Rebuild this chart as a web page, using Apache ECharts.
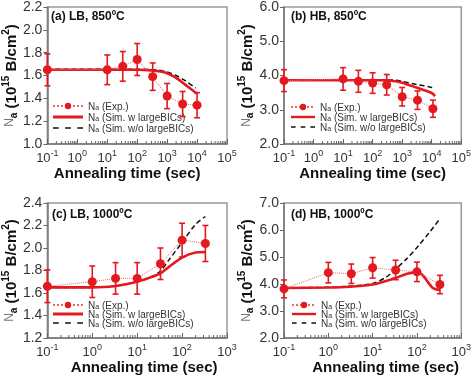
<!DOCTYPE html>
<html><head><meta charset="utf-8">
<script src="https://cdn.jsdelivr.net/npm/echarts@6/dist/echarts.min.js"></script>
<style>html,body{margin:0;padding:0;background:#fff}#c{width:474px;height:381px}</style>
</head><body><div id="c"></div>
<script>
// ---------- data ----------
const aTime = [0.1, 10, 33, 100, 330, 1000, 3300, 10000];
const aExp  = [1.65, 1.65, 1.68, 1.74, 1.59, 1.42, 1.35, 1.34];
const aErr  = [0.14, 0.13, 0.13, 0.14, 0.12, 0.11, 0.11, 0.11];
const aSimWT = [0.1, 1, 10, 100, 300, 600, 1000, 2000, 4000, 10000];
const aSimW  = [1.65, 1.65, 1.65, 1.65, 1.645, 1.635, 1.62, 1.58, 1.52, 1.44];
const aSimOT = [0.1, 1, 10, 100, 400, 1000, 2000, 4000, 9000];
const aSimO  = [1.655, 1.655, 1.655, 1.655, 1.65, 1.63, 1.60, 1.555, 1.49];

const bTime = [0.1, 10, 33, 100, 300, 1000, 3300, 11000];
const bExp  = [3.85, 3.90, 3.83, 3.78, 3.73, 3.38, 3.28, 3.03];
const bErr  = [0.32, 0.33, 0.32, 0.30, 0.30, 0.27, 0.27, 0.25];
const bSimWT = [0.1, 1, 10, 100, 300, 600, 1000, 3000, 10000, 13000];
const bSimW  = [3.86, 3.86, 3.86, 3.86, 3.86, 3.83, 3.79, 3.65, 3.49, 3.40];
const bSimOT = [0.1, 1, 10, 100, 500, 1000, 3000, 10000, 13000];
const bSimO  = [3.87, 3.87, 3.87, 3.87, 3.87, 3.83, 3.74, 3.65, 3.60];

const cTime = [0.1, 1, 3.3, 10, 33, 100, 330];
const cExp  = [1.66, 1.70, 1.73, 1.73, 1.86, 2.07, 2.04];
const cErr  = [0.145, 0.14, 0.14, 0.14, 0.14, 0.15, 0.16];
const cSimWT = [0.1, 1, 3, 10, 20, 33, 50, 100, 200, 330];
const cSimW  = [1.65, 1.65, 1.66, 1.70, 1.74, 1.775, 1.83, 1.915, 1.96, 1.965];
const cSimOT = [0.1, 1, 3, 10, 20, 33, 50, 100, 200, 330];
const cSimO  = [1.65, 1.65, 1.66, 1.70, 1.74, 1.795, 1.89, 2.05, 2.21, 2.28];

const dTime = [0.1, 1, 3.3, 10, 33, 100, 330];
const dExp  = [3.82, 4.42, 4.38, 4.60, 4.52, 4.45, 3.98];
const dErr  = [0.33, 0.38, 0.36, 0.38, 0.36, 0.36, 0.34];
const dSimWT = [0.1, 1, 3, 10, 30, 60, 100, 130, 180, 230, 330];
const dSimW  = [3.85, 3.87, 3.90, 3.98, 4.20, 4.38, 4.44, 4.35, 4.05, 3.85, 3.78];
const dSimOT = [0.1, 1, 3, 10, 20, 33, 60, 100, 200, 330];
const dSimO  = [3.86, 3.88, 3.92, 4.02, 4.25, 4.55, 4.95, 5.35, 5.95, 6.42];

const titles = ['(a) LB, 850ºC', '(b) HB, 850ºC', '(c) LB, 1000ºC', '(d) HB, 1000ºC'];
const yMins = [1.0, 2.0, 1.2, 2.0];
const yMaxs = [2.2, 6.0, 2.4, 7.0];
const yInts = [0.2, 1.0, 0.2, 1.0];
const xMaxs = [1e5, 1e5, 1e3, 1e3];
const minorMult = [2, 3, 4, 5, 6, 7, 8, 9];
const legendNames = ['exp', 'simw', 'simwo'];
const legendTexts = {exp: ' (Exp.)', simw: ' (Sim. w largeBICs)', simwo: ' (Sim. w/o largeBICs)'};

// ---------- style ----------
const RED = '#e3191f';
const FONT = 'Liberation Sans, Arial, sans-serif';
const grids = [
  {left: 44, top: 5, width: 183, height: 139},
  {left: 284, top: 5, width: 186, height: 139},
  {left: 45, top: 203, width: 182, height: 135},
  {left: 284, top: 203, width: 186, height: 135}
];
const legendPos = [
  {left: 52, top: 102, itemGap: 1, itemWidth: 30},
  {left: 290, top: 103, itemGap: 0, itemWidth: 24},
  {left: 52, top: 301, itemGap: -1, itemWidth: 30},
  {left: 291, top: 301, itemGap: -1, itemWidth: 24}
];
const xNamePad = [[0, 20, 0, 0], [0, 0, 0, 0], [0, 0, 0, 14], [0, 0, 0, 26]];

const panels = [
  {t: aTime, e: aExp, r: aErr, wt: aSimWT, w: aSimW, ot: aSimOT, o: aSimO},
  {t: bTime, e: bExp, r: bErr, wt: bSimWT, w: bSimW, ot: bSimOT, o: bSimO},
  {t: cTime, e: cExp, r: cErr, wt: cSimWT, w: cSimW, ot: cSimOT, o: cSimO},
  {t: dTime, e: dExp, r: dErr, wt: dSimWT, w: dSimW, ot: dSimOT, o: dSimO}
];

function zip(a, b) { return a.map((v, i) => [v, b[i]]); }

function errRender(params, api) {
  const x = api.value(0), lo = api.value(1), hi = api.value(2);
  const p1 = api.coord([x, lo]), p2 = api.coord([x, hi]);
  const w = 3;
  const st = {stroke: RED, lineWidth: 1.6};
  return {type: 'group', children: [
    {type: 'line', shape: {x1: p1[0], y1: p1[1], x2: p2[0], y2: p2[1]}, style: st},
    {type: 'line', shape: {x1: p1[0] - w, y1: p1[1], x2: p1[0] + w, y2: p1[1]}, style: st},
    {type: 'line', shape: {x1: p2[0] - w, y1: p2[1], x2: p2[0] + w, y2: p2[1]}, style: st}
  ]};
}
function minorRender(params, api) {
  const p = api.coord([api.value(0), api.value(1)]);
  return {type: 'line', shape: {x1: p[0], y1: p[1], x2: p[0], y2: p[1] - 3},
    style: {stroke: '#666', lineWidth: 1}};
}

const option = {
  animation: false,
  backgroundColor: '#fff',
  textStyle: {fontFamily: FONT},
  grid: grids.map(g => Object.assign({show: true, borderColor: '#999', borderWidth: 1.5, containLabel: false}, g)),
  xAxis: [], yAxis: [], series: [], legend: [], graphic: []
};

const legendData = [
  {name: 'exp'},
  {name: 'simw', icon: 'path://M0,0h26v2.6h-26z', itemStyle: {color: RED}},
  {name: 'simwo', icon: 'path://M0,0h5v1.5h-5zM10.5,0h5v1.5h-5zM21,0h5v1.5h-5z', itemStyle: {color: '#111'}}
];

panels.forEach((p, i) => {
  option.xAxis.push({
    type: 'log', logBase: 10, gridIndex: i, min: 0.1, max: xMaxs[i],
    splitNumber: i < 2 ? 6 : 4,
    name: 'Annealing time (sec)', nameLocation: 'middle', nameGap: 22,
    nameTextStyle: {fontFamily: FONT, fontSize: 15, fontWeight: 'bold', color: '#111', padding: xNamePad[i], verticalAlign: 'top'},
    axisLine: {show: true, onZero: false, lineStyle: {color: '#777', width: 1.5}},
    axisTick: {show: true, inside: true, length: 5, lineStyle: {color: '#666'}},
    splitLine: {show: false},
    axisLabel: {
      margin: 5, color: '#333', showMinLabel: true, showMaxLabel: true,
      formatter: v => '{b|10}{s|' + Math.round(Math.log10(v)) + '}',
      rich: {
        b: {fontFamily: FONT, fontSize: 13, color: '#333', lineHeight: 16, verticalAlign: 'bottom'},
        s: {fontFamily: FONT, fontSize: 9, color: '#333', lineHeight: 9, verticalAlign: 'top'}
      }
    }
  });
  option.yAxis.push({
    type: 'value', gridIndex: i, min: yMins[i], max: yMaxs[i], interval: yInts[i],
    name: 'N{sub|a}{t| (10}{sup|15}{t| B/cm}{sup|2}{t|)}', nameLocation: 'middle', nameGap: 23, nameRotate: 90,
    nameTextStyle: {
      rich: {
        t: {fontFamily: FONT, fontSize: 15, fontWeight: 'bold', color: '#111', lineHeight: 18, verticalAlign: 'bottom'},
        sub: {fontFamily: FONT, fontSize: 10, fontWeight: 'bold', color: '#111', lineHeight: 8, verticalAlign: 'bottom'},
        sup: {fontFamily: FONT, fontSize: 10, fontWeight: 'bold', color: '#111', lineHeight: 10, verticalAlign: 'top'}
      }
    },
    axisLine: {show: true, lineStyle: {color: '#777', width: 1.5}},
    axisTick: {show: true, inside: false, length: 4, lineStyle: {color: '#666'}},
    splitLine: {show: false},
    axisLabel: {margin: 5, fontFamily: FONT, fontSize: 14, color: '#333', formatter: v => v.toFixed(1)}
  });
  option.series.push({
    name: 'simwo', type: 'line', xAxisIndex: i, yAxisIndex: i, data: zip(p.ot, p.o),
    smooth: 0.3, showSymbol: false, symbol: 'none', z: 3,
    lineStyle: {color: '#111', width: 1.5, type: [5, 3]}, itemStyle: {color: '#111'}
  });
  option.series.push({
    name: 'simw', type: 'line', xAxisIndex: i, yAxisIndex: i, data: zip(p.wt, p.w),
    smooth: 0.3, showSymbol: false, symbol: 'none', z: 4,
    lineStyle: {color: RED, width: 2.6}, itemStyle: {color: RED}
  });
  option.series.push({
    type: 'custom', xAxisIndex: i, yAxisIndex: i, renderItem: errRender, z: 5,
    encode: {x: 0, y: [1, 2]}, silent: true,
    data: p.t.map((t, k) => [t, p.e[k] - p.r[k], p.e[k] + p.r[k]])
  });
  option.series.push({
    name: 'exp', type: 'line', xAxisIndex: i, yAxisIndex: i, data: zip(p.t, p.e),
    symbol: 'circle', symbolSize: 9, z: 6,
    lineStyle: {color: '#ee6666', width: 1, type: 'dotted'}, itemStyle: {color: RED}
  });
  const minors = [];
  for (let e = -1; Math.pow(10, e) < xMaxs[i]; e++) {
    minorMult.forEach(m => minors.push([m * Math.pow(10, e), yMins[i]]));
  }
  option.series.push({
    type: 'custom', xAxisIndex: i, yAxisIndex: i, renderItem: minorRender, z: 2,
    encode: {x: 0, y: 1}, silent: true, data: minors
  });
  option.legend.push(Object.assign({
    orient: 'vertical', data: legendData, itemHeight: 8, padding: 0,
    selectedMode: false,
    formatter: n => '{t|N}{sub|a}{t|' + legendTexts[n] + '}',
    textStyle: {
      rich: {
        t: {fontFamily: FONT, fontSize: 10, color: '#333', lineHeight: 12, verticalAlign: 'bottom'},
        sub: {fontFamily: FONT, fontSize: 7, color: '#333', lineHeight: 7, verticalAlign: 'bottom'}
      }
    }
  }, legendPos[i]));
  option.graphic.push({
    type: 'text', left: grids[i].left + 7, top: grids[i].top + 6,
    style: {text: titles[i], font: 'bold 12px ' + FONT, fill: '#111'}
  });
});

const chart = echarts.init(document.getElementById('c'), null, {renderer: 'canvas'});
chart.setOption(option);
</script></body></html>
